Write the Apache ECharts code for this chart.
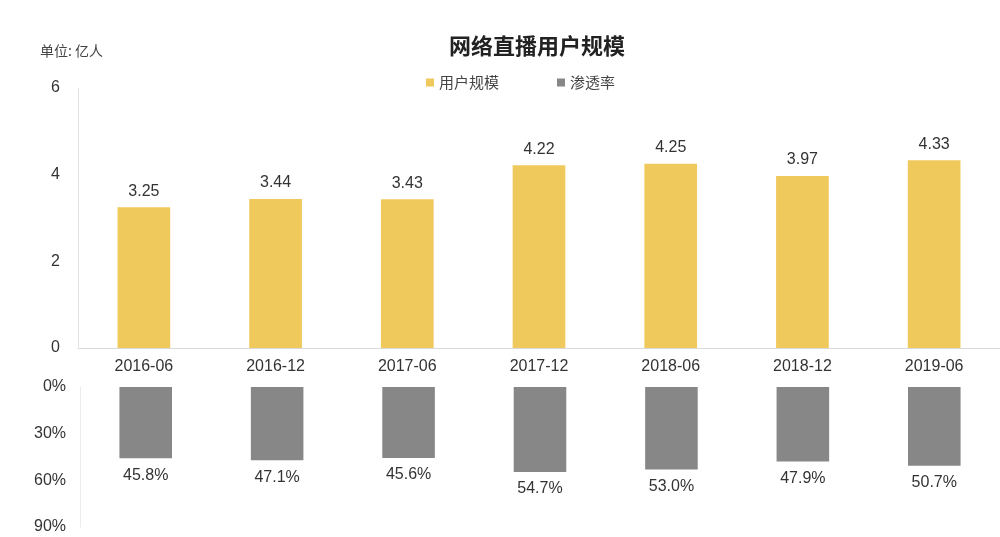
<!DOCTYPE html>
<html>
<head>
<meta charset="utf-8">
<script src="https://cdn.jsdelivr.net/npm/echarts@6/dist/echarts.min.js"></script>
<style>
  html, body { margin: 0; padding: 0; background: #fff; }
  #chart { width: 1000px; height: 537px; }
</style>
</head>
<body>
<div id="chart"></div>
<script>
const categories = ['2016-06', '2016-12', '2017-06', '2017-12', '2018-06', '2018-12', '2019-06']
const userScale = [3.25, 3.44, 3.43, 4.22, 4.25, 3.97, 4.33]
const penetration = [45.8, 47.1, 45.6, 54.7, 53.0, 47.9, 50.7]
const scaleTicks = { min: 0, max: 6, interval: 2 }
const rateTicks = { min: 0, max: 90, interval: 30 }

const font = "'Liberation Sans', 'Noto Sans CJK SC', sans-serif"
const cjk = "'Noto Sans CJK SC', sans-serif"

const chart = echarts.init(document.getElementById('chart'))
chart.setOption({
  animation: false,
  textStyle: { fontFamily: font },
  title: {
    text: '网络直播用户规模',
    left: 444,
    top: 30,
    textStyle: { fontSize: 22, fontWeight: 'bold', color: '#222', fontFamily: cjk }
  },
  graphic: [
    {
      type: 'text',
      left: 40,
      top: 44,
      style: { text: '单位: 亿人', font: '14px ' + cjk, fill: '#444' }
    }
  ],
  legend: {
    top: 70,
    left: 421,
    itemGap: 58,
    itemWidth: 8,
    itemHeight: 8,
    icon: 'rect',
    textStyle: { fontSize: 15, color: '#444', fontFamily: cjk },
    data: ['用户规模', '渗透率']
  },
  grid: [
    { left: 78, right: 0, top: 88, height: 260 },
    { left: 80, right: 0, top: 387, height: 140 }
  ],
  xAxis: [
    {
      type: 'category',
      gridIndex: 0,
      data: categories,
      axisLine: { lineStyle: { color: '#d9d9d9' } },
      axisTick: { show: false },
      axisLabel: { fontSize: 16, color: '#333', margin: 11 }
    },
    {
      type: 'category',
      gridIndex: 1,
      data: categories,
      position: 'top',
      axisLine: { show: false },
      axisTick: { show: false },
      axisLabel: { show: false }
    }
  ],
  yAxis: [
    {
      type: 'value',
      gridIndex: 0,
      min: scaleTicks.min,
      max: scaleTicks.max,
      interval: scaleTicks.interval,
      axisLine: { show: true, lineStyle: { color: '#e3e3e3' } },
      axisTick: { show: false },
      splitLine: { show: false },
      axisLabel: { fontSize: 16, color: '#333', margin: 18 }
    },
    {
      type: 'value',
      gridIndex: 1,
      inverse: true,
      min: rateTicks.min,
      max: rateTicks.max,
      interval: rateTicks.interval,
      axisLine: { show: true, lineStyle: { color: '#ececec' } },
      axisTick: { show: false },
      splitLine: { show: false },
      axisLabel: { fontSize: 16, color: '#333', margin: 14, formatter: '{value}%' }
    }
  ],
  series: [
    {
      name: '用户规模',
      type: 'bar',
      xAxisIndex: 0,
      yAxisIndex: 0,
      data: userScale,
      barWidth: '40%',
      itemStyle: { color: '#F0C95C' },
      label: { show: true, position: 'top', fontSize: 16, color: '#333', distance: 8 }
    },
    {
      name: '渗透率',
      type: 'bar',
      xAxisIndex: 1,
      yAxisIndex: 1,
      data: penetration,
      barWidth: '40%',
      itemStyle: { color: '#878787' },
      label: {
        show: true,
        position: 'bottom',
        fontSize: 16,
        color: '#333',
        distance: 9,
        formatter: p => p.value.toFixed(1) + '%'
      }
    }
  ]
})
</script>
</body>
</html>
